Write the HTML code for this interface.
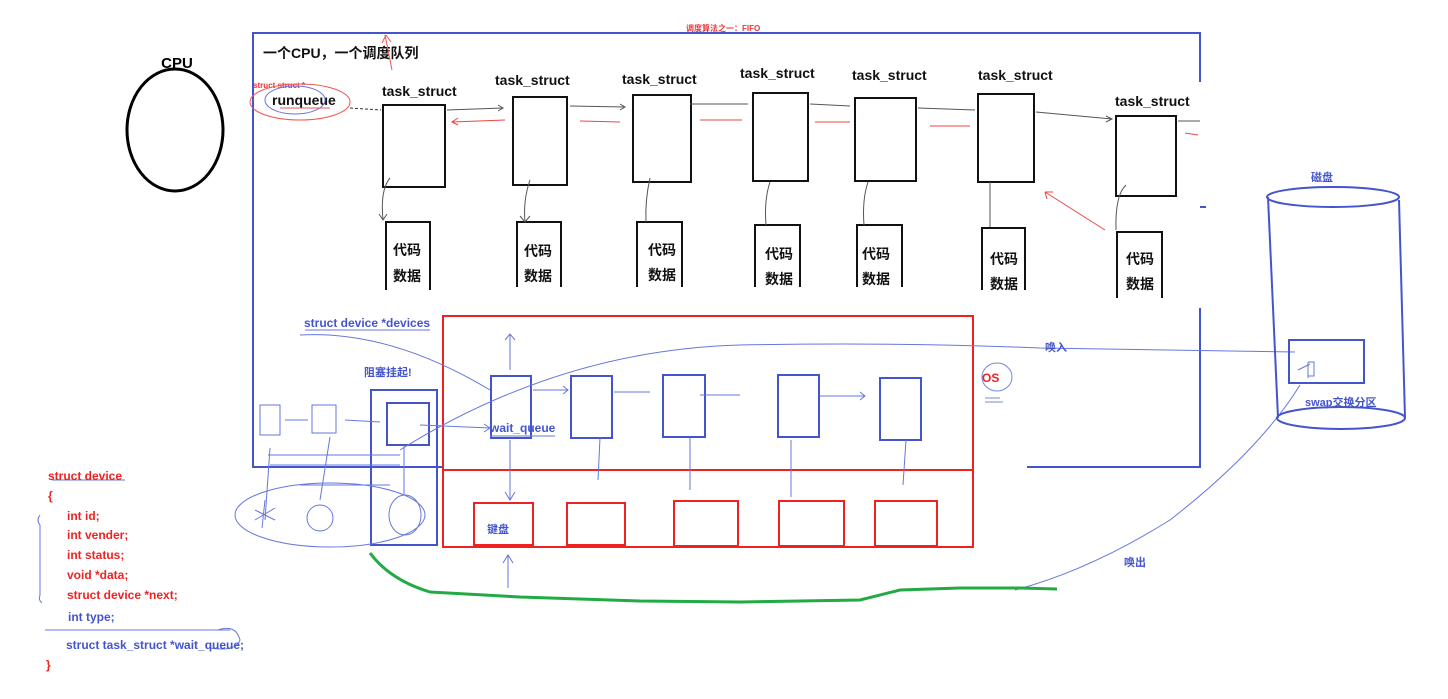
<!DOCTYPE html>
<html><head><meta charset="utf-8"><style>
html,body{margin:0;padding:0;background:#fff;}
svg{display:block;font-family:"Liberation Sans","Noto Sans CJK SC",sans-serif;font-weight:bold;}
</style></head><body>
<svg width="1448" height="699" viewBox="0 0 1448 699" xmlns="http://www.w3.org/2000/svg">
<rect width="1448" height="699" fill="#fff"/>
<!-- CPU -->
<text x="177" y="68" font-size="15" text-anchor="middle" fill="#000">CPU</text>
<ellipse cx="175" cy="130" rx="48" ry="61" fill="none" stroke="#000" stroke-width="3"/>
<!-- Frame -->
<g stroke="#4455cc" stroke-width="2" fill="none">
<path d="M1200 82 V33 H253 V467 H443"/>
<path d="M1027 467 H1200 V308"/>
<path d="M1200 207 h6"/>
</g>
<text x="686" y="31" font-size="8" fill="#e33">调度算法之一：FIFO</text>
<text x="263" y="58" font-size="14" fill="#111">一个CPU，一个调度队列</text>
<!-- runqueue -->
<text x="253" y="88" font-size="8" fill="#e33">struct struct *</text>
<text x="272" y="105" font-size="14" fill="#111">runqueue</text>
<ellipse cx="300" cy="102" rx="50" ry="18" fill="none" stroke="#e55" stroke-width="1"/>
<ellipse cx="295" cy="100" rx="30" ry="14" fill="none" stroke="#6677dd" stroke-width="1"/>
<path d="M280 108 H330" stroke="#e55"/>
<path d="M350 108 L381 110" stroke="#333" stroke-dasharray="3,2" fill="none"/>
<path d="M392 70 L385 35 M386 35 l-4 8 M386 35 l5 7" stroke="#e55" fill="none"/>
<!-- task structs -->
<g fill="none" stroke="#111" stroke-width="2">
<rect x="383" y="105" width="62" height="82"/>
<rect x="513" y="97" width="54" height="88"/>
<rect x="633" y="95" width="58" height="87"/>
<rect x="753" y="93" width="55" height="88"/>
<rect x="855" y="98" width="61" height="83"/>
<rect x="978" y="94" width="56" height="88"/>
<rect x="1116" y="116" width="60" height="80"/>
<path d="M386 290 V222 H430 V290"/>
<path d="M517 287 V222 H561 V287"/>
<path d="M637 287 V222 H682 V287"/>
<path d="M755 287 V225 H800 V287"/>
<path d="M857 287 V225 H902 V287"/>
<path d="M982 290 V228 H1025 V290"/>
<path d="M1117 298 V232 H1162 V298"/>
</g>
<g font-size="14" fill="#111">
<text x="382" y="96">task_struct</text>
<text x="495" y="85">task_struct</text>
<text x="622" y="84">task_struct</text>
<text x="740" y="78">task_struct</text>
<text x="852" y="80">task_struct</text>
<text x="978" y="80">task_struct</text>
<text x="1115" y="106">task_struct</text>
</g>
<g font-size="14" fill="#111">
<text x="393" y="255">代码</text><text x="393" y="281">数据</text>
<text x="524" y="256">代码</text><text x="524" y="281">数据</text>
<text x="648" y="255">代码</text><text x="648" y="280">数据</text>
<text x="765" y="259">代码</text><text x="765" y="284">数据</text>
<text x="862" y="259">代码</text><text x="862" y="284">数据</text>
<text x="990" y="264">代码</text><text x="990" y="289">数据</text>
<text x="1126" y="264">代码</text><text x="1126" y="289">数据</text>
</g>
<!-- links -->
<g stroke="#555" fill="none" stroke-width="1">
<path d="M447 110 L503 108 M498 105 l5 3 -5 3"/>
<path d="M570 106 L625 107 M620 104 l5 3 -5 3"/>
<path d="M690 104 L748 104"/>
<path d="M810 104 L850 106"/>
<path d="M918 108 L975 110"/>
<path d="M1036 112 L1112 119 M1106 116 l6 3 -6 3"/>
<path d="M1178 121 L1200 121"/>
<path d="M390 178 Q380 190 383 220 M379 214 l4 6 4-6"/>
<path d="M530 180 Q523 200 525 222 M520 216 l5 6 5-6"/>
<path d="M650 178 Q645 200 646 222"/>
<path d="M770 182 Q764 200 766 225"/>
<path d="M868 182 Q862 200 864 225"/>
<path d="M990 182 L990 227"/>
<path d="M1126 185 Q1115 195 1116 230"/>
</g>
<g stroke="#e44" fill="none" stroke-width="1">
<path d="M505 120 L452 122 M458 118 l-6 4 6 3"/>
<path d="M620 122 L580 121"/>
<path d="M742 120 L700 120"/>
<path d="M850 122 L815 122"/>
<path d="M970 126 L930 126"/>
<path d="M1105 230 L1045 192 M1045 192 l8 0 M1045 192 l2 7"/>
<path d="M1198 135 L1185 133"/>
</g>
<!-- OS red box -->
<g fill="none" stroke="#e22" stroke-width="2">
<rect x="443" y="316" width="530" height="231"/>
<path d="M443 470 H973"/>
<rect x="474" y="503" width="59" height="42"/>
<rect x="567" y="503" width="58" height="42"/>
<rect x="674" y="501" width="64" height="45"/>
<rect x="779" y="501" width="65" height="45"/>
<rect x="875" y="501" width="62" height="45"/>
</g>
<text x="487" y="533" font-size="11" fill="#4455cc">键盘</text>
<text x="982" y="382" font-size="12" fill="#e22">OS</text>
<ellipse cx="997" cy="377" rx="15" ry="14" fill="none" stroke="#7788dd"/>
<path d="M985 398 h15 M985 402 h18" stroke="#7788dd"/>
<g fill="none" stroke="#4455cc" stroke-width="2">
<rect x="491" y="376" width="40" height="62"/>
<rect x="571" y="376" width="41" height="62"/>
<rect x="663" y="375" width="42" height="62"/>
<rect x="778" y="375" width="41" height="62"/>
<rect x="880" y="378" width="41" height="62"/>
<rect x="371" y="390" width="66" height="155"/>
<rect x="387" y="403" width="42" height="42"/>
</g>
<g fill="none" stroke="#6677dd" stroke-width="1">
<rect x="260" y="405" width="20" height="30"/>
<rect x="312" y="405" width="24" height="28"/>
<path d="M533 390 L568 390 M563 386 l5 4 -5 4"/>
<path d="M614 392 L650 392"/>
<path d="M700 395 L740 395"/>
<path d="M820 396 L865 396 M860 392 l5 4 -5 4"/>
<path d="M510 440 L510 500 M505 492 l5 8 5-8"/>
<path d="M600 438 L598 480"/>
<path d="M690 438 L690 490"/>
<path d="M791 440 L791 497"/>
<path d="M906 440 L903 485"/>
<path d="M508 555 L508 588 M503 563 l5-8 5 8"/>
<path d="M510 370 L510 334 M505 340 l5-6 5 6"/>
<path d="M285 420 H308"/>
<path d="M345 420 L380 422"/>
<path d="M420 425 L490 428 M484 424 l6 4 -6 4"/>
<path d="M404 445 L404 495"/>
<path d="M330 437 L320 500"/>
<path d="M270 448 L265 520"/>
<path d="M268 455 H400 M270 465 H400 M300 485 H390"/>
<ellipse cx="330" cy="515" rx="95" ry="32"/>
<circle cx="320" cy="518" r="13"/>
<ellipse cx="405" cy="515" rx="16" ry="20"/>
<path d="M265 500 L262 528 M255 510 L275 520 M255 520 L275 508"/>
<path d="M300 335 Q390 330 490 390"/>
<path d="M305 330 H430"/>
<path d="M490 436 H555"/>
<path d="M400 450 Q560 350 740 345 Q900 342 1040 348 L1295 352"/>
<path d="M1015 590 Q1090 570 1170 520 Q1260 450 1300 385"/>
<path d="M1298 370 l12 -6 M1308 362 l0 16 M1308 362 h6 v14 h-6"/>
<path d="M40 515 Q36 520 40 525 V595 Q38 600 42 603"/>
<path d="M45 630 H230"/>
<path d="M52 480 H125"/>
<path d="M218 630 Q236 624 240 640 Q236 652 210 648"/>
</g>
<text x="304" y="327" font-size="12" fill="#4455cc">struct device *devices</text>
<text x="364" y="376" font-size="11" fill="#4455cc">阻塞挂起!</text>
<text x="490" y="432" font-size="12" fill="#4455cc">wait_queue</text>
<text x="1045" y="351" font-size="11" fill="#4455cc">唤入</text>
<text x="1124" y="566" font-size="11" fill="#4455cc">唤出</text>
<!-- green curve -->
<path d="M370 553 Q390 580 430 592 L520 597 L640 601 L740 602 L860 600 L900 590 L960 588 L1020 588 L1057 589" fill="none" stroke="#22aa44" stroke-width="3"/>
<!-- disk -->
<g fill="none" stroke="#4455cc" stroke-width="2">
<ellipse cx="1333" cy="197" rx="66" ry="10"/>
<path d="M1268 197 L1278 418 M1399 200 L1405 418"/>
<ellipse cx="1341" cy="418" rx="64" ry="11"/>
<rect x="1289" y="340" width="75" height="43"/>
</g>
<text x="1311" y="181" font-size="11" fill="#4455cc">磁盘</text>
<text x="1305" y="406" font-size="11" fill="#4455cc">swap交换分区</text>
<!-- struct code -->
<g font-size="12">
<text x="48" y="480" fill="#e22">struct device</text>
<text x="48" y="500" fill="#e22">{</text>
<text x="67" y="520" fill="#e22">int id;</text>
<text x="67" y="539" fill="#e22">int vender;</text>
<text x="67" y="559" fill="#e22">int status;</text>
<text x="67" y="579" fill="#e22">void *data;</text>
<text x="67" y="599" fill="#e22">struct device *next;</text>
<text x="68" y="621" fill="#4455cc">int type;</text>
<text x="66" y="649" fill="#4455cc">struct task_struct *wait_queue;</text>
<text x="46" y="669" fill="#e22">}</text>
</g>
</svg>
</body></html>
